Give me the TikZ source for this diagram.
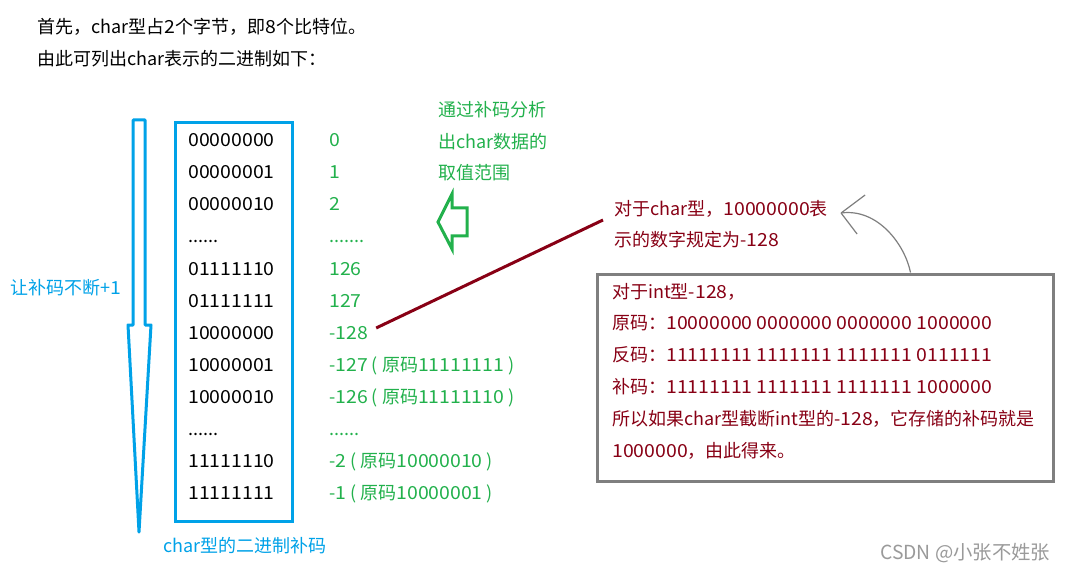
\documentclass[tikz,border=0pt]{standalone}
\usepackage{fontspec}
\setmainfont{Noto Sans CJK SC}
\newfontfamily\digitfont{Noto Sans CJK SC}[FakeStretch=1.08]
\newcommand\dg[1]{{\digitfont #1}}
\usetikzlibrary{calc}
\definecolor{cblue}{HTML}{00A2E8}
\definecolor{cgreen}{HTML}{22B14C}
\definecolor{cred}{HTML}{880015}
\definecolor{cgray}{HTML}{7F7F7F}
\definecolor{cmark}{HTML}{9A9A9A}
\newcommand\sixdots{......}
\newcommand\sevendots{.......}
\newcommand\txtfont{\fontsize{13.5}{16}\selectfont}
\begin{document}
\begin{tikzpicture}[x=0.75pt,y=-0.75pt,
  txt/.style={anchor=base west, inner sep=0pt, font=\txtfont},
  bintxt/.style={txt, text=black},
  numtxt/.style={txt, text=cgreen},
  redtxt/.style={txt, text=cred},
  bluetxt/.style={txt, text=cblue},
  thick3/.style={line width=2.25pt},
]
\useasboundingbox (0,0) rectangle (1066,570);
\fill[white] (0,0) rectangle (1066,570);

% heading
\node[bintxt] (h1) at (37,34) {首先，char型占\dg{2}个字节，即\dg{8}个比特位。};
\node[bintxt] (h2) at (37,66) {由此可列出char表示的二进制如下：};

% blue box
\node[draw=cblue, thick3, minimum width=87.75pt, minimum height=298.5pt, inner sep=0pt] (binbox) at (233.5,322) {};

% rows
\foreach \i/\b/\n in {1/\dg{00000000}/\dg{0}, 2/\dg{00000001}/\dg{1}, 3/\dg{00000010}/\dg{2}, 4/\sixdots/\sevendots, 5/\dg{01111110}/\dg{126}, 6/\dg{01111111}/\dg{127}, 7/\dg{10000000}/{-\dg{128}}, 8/\dg{10000001}/{-\dg{127} ( 原码\dg{11111111} )}, 9/\dg{10000010}/{-\dg{126} ( 原码\dg{11111110} )}, 10/\sixdots/\sixdots, 11/\dg{11111110}/{-\dg{2} ( 原码\dg{10000010} )}, 12/\dg{11111111}/{-\dg{1} ( 原码\dg{10000001} )}}{
  \node[bintxt] (b\i) at (188,{147+32*(\i-1)}) {\b};
  \node[numtxt] (g\i) at (329,{147+32*(\i-1)}) {\n};
}

\node[bluetxt] (lbox) at (163,552) {char型的二进制补码};
\node[bluetxt] (lup) at (10,294) {让补码不断+\dg{1}};

% blue down arrow
\draw[cblue, thick3, line join=round] (133,120) -- (145,120) -- (145,325) -- (151,325) -- (139,532) -- (128,325) -- (133,325) -- cycle;

% green text & arrow
\node[numtxt] (t1) at (438,117) {通过补码分析};
\node[numtxt] (t2) at (438,149) {出char数据的};
\node[numtxt] (t3) at (438,180) {取值范围};
\draw[cgreen, thick3, line join=miter] (438,222) -- (452,194) -- (452,208) -- (467,208) -- (467,236) -- (452,236) -- (452,249) -- cycle;

% red note
\node[redtxt] (n1) at (614,215) {对于char型，\dg{10000000}表};
\node[redtxt] (n2) at (614,247) {示的数字规定为-\dg{128}};
\draw[cred, thick3] ($(g7.base east)+(8,-11)$) -- ($(n1.base west)+(-11,5)$);

% gray box
\node[draw=cgray, thick3, minimum width=342pt, minimum height=155.25pt, inner sep=0pt] (intbox) at (825,377.5) {};
\node[redtxt] (i1) at (612,298) {对于int型-\dg{128}，};
\node[redtxt] (i2) at (612,329) {原码：\dg{10000000 0000000 0000000 1000000}};
\node[redtxt] (i3) at (612,361) {反码：\dg{11111111 1111111 1111111 0111111}};
\node[redtxt] (i4) at (612,393) {补码：\dg{11111111 1111111 1111111 1000000}};
\node[redtxt] (i5) at (612,425) {所以如果char型截断int型的-\dg{128}，它存储的补码就是};
\node[redtxt] (i6) at (612,457) {\dg{1000000}，由此得来。};

% gray curved arrow
\coordinate (gtail) at ($(intbox.north west)+(315,0)$);
\coordinate (gtip) at ($(n1.base east)+(13,-2)$);
\draw[cgray, line width=0.9pt] (gtail) .. controls (905,245) and (878,208) .. (gtip);
\draw[cgray, line width=0.9pt] (gtip) -- ++(24,-18);
\draw[cgray, line width=0.9pt] (gtip) -- ++(16,21);

% watermark
\node[txt, text=cmark, font=\fontsize{14.5}{17}\selectfont] (wm) at (880,559) {CSDN @小张不姓张};
\end{tikzpicture}
\end{document}
